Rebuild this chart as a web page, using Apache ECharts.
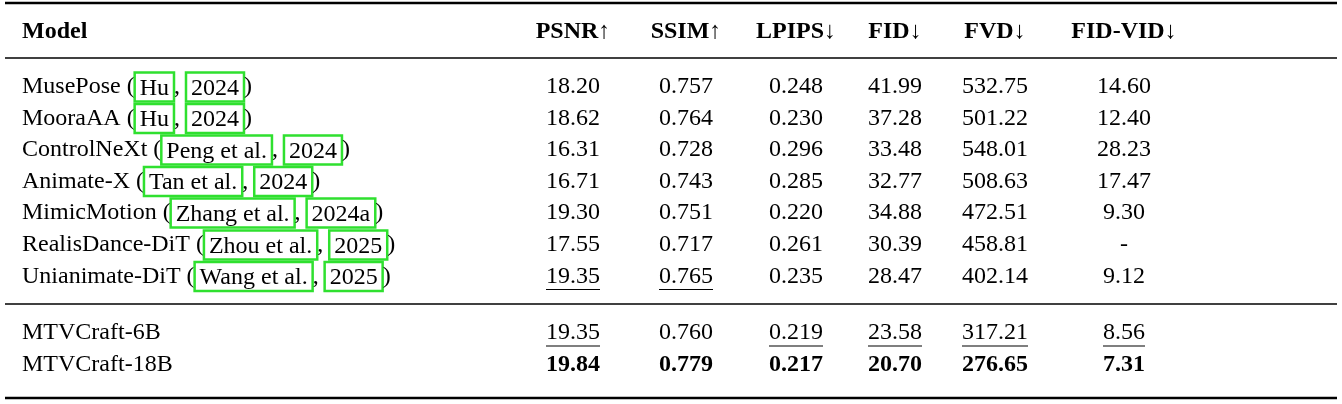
<!DOCTYPE html>
<html><head><meta charset="utf-8">
<script src="https://cdn.jsdelivr.net/npm/echarts@6/dist/echarts.min.js"></script>
<style>html,body{margin:0;background:#fff}#main{width:1342px;height:404px}</style>
</head><body><div id="main"></div>
<script>
var headers = ["Model", "PSNR↑", "SSIM↑", "LPIPS↓", "FID↓", "FVD↓", "FID-VID↓"];
// model names: [name, citation author, citation year]
var models = [
  ["MusePose", "Hu", "2024"],
  ["MooraAA", "Hu", "2024"],
  ["ControlNeXt", "Peng et al.", "2024"],
  ["Animate-X", "Tan et al.", "2024"],
  ["MimicMotion", "Zhang et al.", "2024a"],
  ["RealisDance-DiT", "Zhou et al.", "2025"],
  ["Unianimate-DiT", "Wang et al.", "2025"],
  ["MTVCraft-6B", null, null],
  ["MTVCraft-18B", null, null]
];
var values = [
  ["18.20", "0.757", "0.248", "41.99", "532.75", "14.60"],
  ["18.62", "0.764", "0.230", "37.28", "501.22", "12.40"],
  ["16.31", "0.728", "0.296", "33.48", "548.01", "28.23"],
  ["16.71", "0.743", "0.285", "32.77", "508.63", "17.47"],
  ["19.30", "0.751", "0.220", "34.88", "472.51", "9.30"],
  ["17.55", "0.717", "0.261", "30.39", "458.81", "-"],
  ["19.35", "0.765", "0.235", "28.47", "402.14", "9.12"],
  ["19.35", "0.760", "0.219", "23.58", "317.21", "8.56"],
  ["19.84", "0.779", "0.217", "20.70", "276.65", "7.31"]
];
// [row, col] of underlined (second best) cells
var underlined = [[6,1],[6,2],[7,1],[7,3],[7,4],[7,5],[7,6]];
var boldRows = [8];

// layout
var colX = [22, 573, 686, 796, 895, 995, 1124];
var headerY = 32;
var rowY = [87, 118.5, 150, 181.5, 213, 245, 276.5, 333, 365];
var rules = [[3, 2.5], [58, 1.5], [304, 1.5], [398, 2.5]];
var FONT = "'Liberation Serif','DejaVu Serif',serif";
var SIZE = 24;

var ctx = document.createElement('canvas').getContext('2d');
function measure(t, bold) {
  ctx.font = (bold ? 'bold ' : '') + SIZE + 'px ' + FONT;
  return ctx.measureText(t).width;
}

var cells = [];
headers.forEach(function (h, c) { cells.push({ value: [colX[c], headerY], text: h, bold: true, col: c }); });
models.forEach(function (m, r) {
  var t = m[1] ? m[0] + ' ({c|' + m[1] + '}, {c|' + m[2] + '})' : m[0];
  cells.push({ value: [colX[0], rowY[r]], text: t, bold: false, col: 0 });
  values[r].forEach(function (v, j) {
    var ul = underlined.some(function (u) { return u[0] === r && u[1] === j + 1; });
    cells.push({ value: [colX[j + 1], rowY[r]], text: v, bold: boldRows.indexOf(r) >= 0, col: j + 1, ul: ul });
  });
});

var chart = echarts.init(document.getElementById('main'));
chart.setOption({
  animation: false,
  grid: { left: 0, right: 0, top: 0, bottom: 0 },
  xAxis: { type: 'value', min: 0, max: 1342, show: false },
  yAxis: { type: 'value', min: 0, max: 404, inverse: true, show: false },
  series: [{
    type: 'custom',
    data: cells,
    renderItem: function (params, api) {
      var d = cells[params.dataIndex];
      var p = api.coord(d.value);
      var children = [{
        type: 'text', x: p[0], y: p[1],
        style: {
          text: d.text, fill: '#000', font: (d.bold ? 'bold ' : '') + SIZE + 'px ' + FONT,
          align: d.col === 0 ? 'left' : 'center', verticalAlign: 'middle',
          rich: { c: { borderColor: '#2fe02f', borderWidth: 2.5, padding: [4, 5, 1, 5], fontSize: SIZE, fontFamily: FONT } }
        }
      }];
      if (d.ul) {
        var w = measure(d.text, d.bold);
        children.push({ type: 'line', shape: { x1: p[0] - w / 2, y1: p[1] + 13, x2: p[0] + w / 2, y2: p[1] + 13 }, style: { stroke: '#000', lineWidth: 1.2 } });
      }
      return { type: 'group', children: children };
    }
  }, {
    type: 'custom',
    data: rules.map(function (r) { return [r[0], r[1]]; }),
    renderItem: function (params, api) {
      var a = api.coord([5, api.value(0)]);
      var b = api.coord([1337, api.value(0)]);
      return { type: 'line', shape: { x1: a[0], y1: a[1], x2: b[0], y2: b[1] }, style: { stroke: '#000', lineWidth: api.value(1) } };
    }
  }]
});
</script></body></html>
